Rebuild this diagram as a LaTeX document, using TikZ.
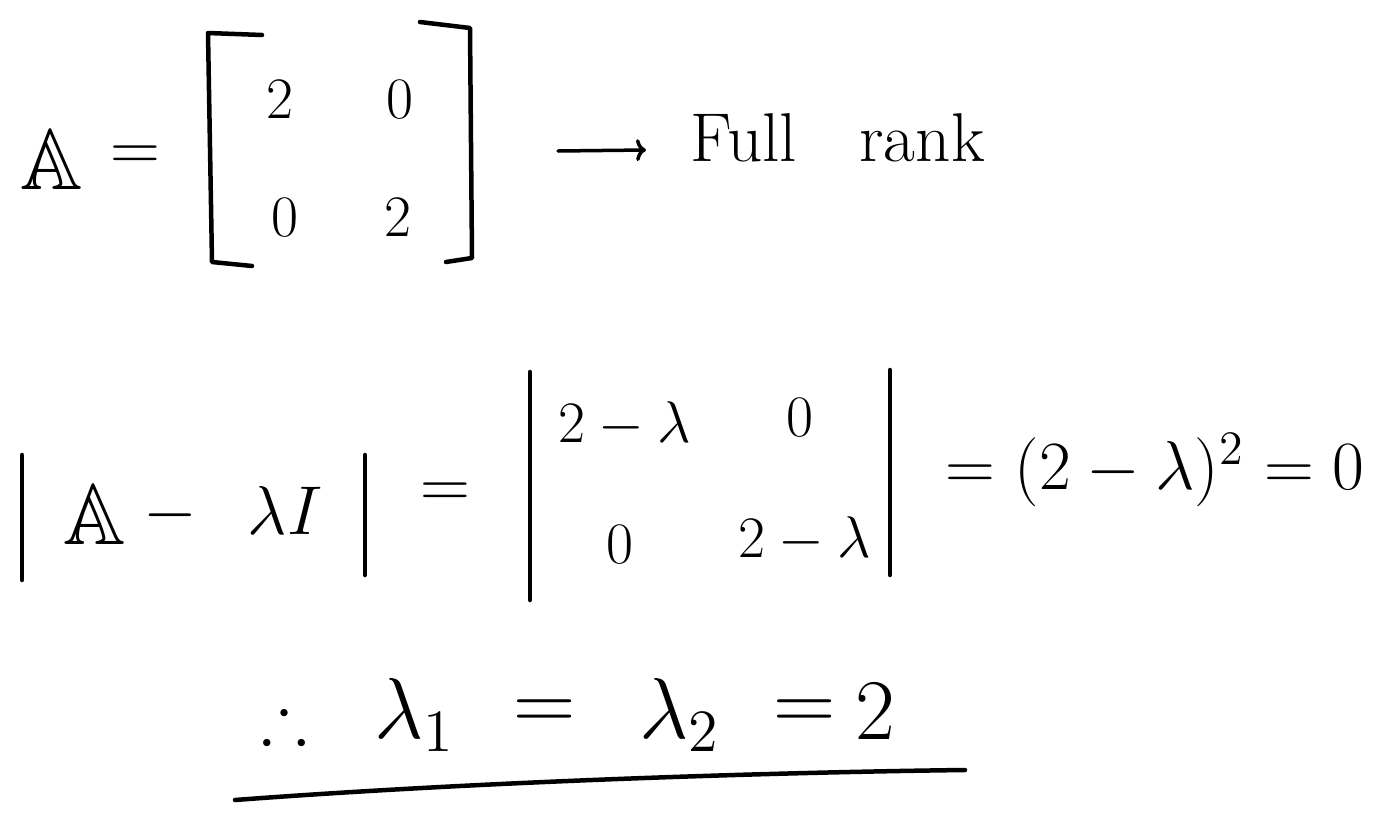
\documentclass[tikz,border=0pt]{standalone}
\usepackage{amsmath,amssymb}
\usetikzlibrary{arrows.meta}
\begin{document}
\begin{tikzpicture}[x=1pt,y=-1pt,
  txt/.style={inner sep=0pt,anchor=center,font=\LARGE},
  huge/.style={txt,scale=5,transform shape},
  big/.style={txt,scale=4,transform shape},
  mid/.style={txt,scale=3.4,transform shape},
  pen/.style={line width=4.5pt,line cap=round,line join=round}]
\useasboundingbox[fill=white] (0,0) rectangle (1400,822);
% row 1
\node[huge] (A1) at (52,160) {$\mathbb{A}$};
\node[big] (e1) at (135,158) {$=$};
\draw[pen] (262,35) -- (208,33) -- (212,262) -- (252,266);
\draw[pen] (420,22) -- (470,28) -- (472,258) -- (446,262);
\node[mid] (m11) at (280,100) {$2$};
\node[mid] (m12) at (400,100) {$0$};
\node[mid] (m21) at (285,218) {$0$};
\node[mid] (m22) at (398,218) {$2$};
\coordinate (ar1) at (558,151);
\coordinate (ar2) at (646,150);
\node[big,anchor=west] (fr) at (690,138) {Full\ \ \ rank};
\draw[pen,line width=3.5pt,-{To[length=10pt,width=22pt,line width=3.5pt]}] (ar1) -- (ar2);
% row 2
\draw[pen] (22,455) -- (22,580);
\node[huge] (A2) at (95,515) {$\mathbb{A}$};
\node[big] (mi) at (170,515) {$-$};
\node[big] (li) at (285,510) {$\lambda I$};
\draw[pen] (365,455) -- (365,575);
\node[big] (eq2) at (445,495) {$=$};
\draw[pen] (530,372) -- (530,600);
\draw[pen] (890,370) -- (890,575);
\node[mid] (d11) at (625,425) {$2-\lambda$};
\node[mid] (d12) at (800,418) {$0$};
\node[mid] (d21) at (620,545) {$0$};
\node[mid] (d22) at (805,540) {$2-\lambda$};
\node[big,anchor=west] (rhs) at (945,470) {$=(2-\lambda)^2=0$};
% row 3
\node[big] (th) at (285,718) {$\therefore$};
\node[huge] (l1) at (415,715) {$\lambda_1$};
\node[huge] (e3a) at (545,715) {$=$};
\node[huge] (l2) at (680,715) {$\lambda_2$};
\node[huge] (e3b) at (805,715) {$=$};
\node[huge] (two) at (875,712) {$2$};
\coordinate (u1) at (235,800);
\coordinate (u2) at (965,770);
\draw[pen] (u1) .. controls (500,780) and (800,772) .. (u2);
\end{tikzpicture}
\end{document}
